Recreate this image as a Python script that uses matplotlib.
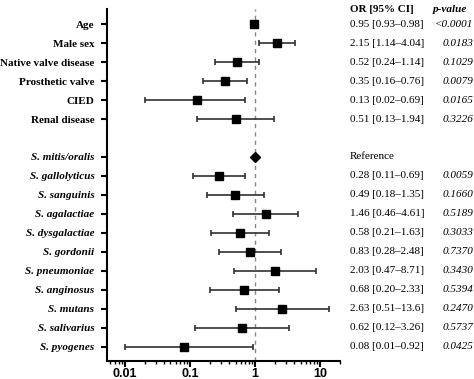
import matplotlib
matplotlib.use("Agg")
import matplotlib.pyplot as plt
from matplotlib.transforms import blended_transform_factory
import numpy as np

labels = ["Age", "Male sex", "Native valve disease", "Prosthetic valve", "CIED", "Renal disease",
          "S. mitis/oralis", "S. gallolyticus", "S. sanguinis", "S. agalactiae", "S. dysgalactiae",
          "S. gordonii", "S. pneumoniae", "S. anginosus", "S. mutans", "S. salivarius", "S. pyogenes"]
italic = [False]*6 + [True]*11
rows = [0, 1, 2, 3, 4, 5, 7, 8, 9, 10, 11, 12, 13, 14, 15, 16, 17]
orv = [0.95, 2.15, 0.52, 0.35, 0.13, 0.51, 1.0, 0.28, 0.49, 1.46, 0.58, 0.83, 2.03, 0.68, 2.63, 0.62, 0.08]
lo = [0.93, 1.14, 0.24, 0.16, 0.02, 0.13, np.nan, 0.11, 0.18, 0.46, 0.21, 0.28, 0.47, 0.20, 0.51, 0.12, 0.01]
hi = [0.98, 4.04, 1.14, 0.76, 0.69, 1.94, np.nan, 0.69, 1.35, 4.61, 1.63, 2.48, 8.71, 2.33, 13.6, 3.26, 0.92]
or_text = ["0.95 [0.93\u20130.98]", "2.15 [1.14\u20134.04]", "0.52 [0.24\u20131.14]", "0.35 [0.16\u20130.76]",
           "0.13 [0.02\u20130.69]", "0.51 [0.13\u20131.94]", "Reference", "0.28 [0.11\u20130.69]",
           "0.49 [0.18\u20131.35]", "1.46 [0.46\u20134.61]", "0.58 [0.21\u20131.63]", "0.83 [0.28\u20132.48]",
           "2.03 [0.47\u20138.71]", "0.68 [0.20\u20132.33]", "2.63 [0.51\u201313.6]", "0.62 [0.12\u20133.26]",
           "0.08 [0.01\u20130.92]"]
p_text = ["<0.0001", "0.0183", "0.1029", "0.0079", "0.0165", "0.3226", "", "0.0059", "0.1660",
          "0.5189", "0.3033", "0.7370", "0.3430", "0.5394", "0.2470", "0.5737", "0.0425"]
xticks = [0.01, 0.1, 1, 10]
xticklabels = ["0.01", "0.1", "1", "10"]

fig = plt.figure(figsize=(4.74, 3.79), dpi=100)
ax = fig.add_axes([0.2257, 0.048, 0.717 - 0.2257, 0.928])
ax.set_xscale("log")
ax.set_xlim(0.0053, 20)
ax.set_ylim(17.75, -0.8)

ax.axvline(1, color="#888888", lw=1.0, ls=(0, (3, 3)), zorder=1)

col = "#303030"
for r, o, l, h in zip(rows, orv, lo, hi):
    if np.isnan(l):
        ax.plot([o], [r], marker="D", ms=5, color="black", zorder=3)
    else:
        ax.errorbar([o], [r], xerr=[[o - l], [h - o]], fmt="s", ms=5.2, mfc="black", mec="black",
                    ecolor=col, elinewidth=1.2, capsize=2.5, capthick=1.2, zorder=3)

for s in ["top", "right"]:
    ax.spines[s].set_visible(False)
ax.spines["left"].set_linewidth(1.5)
ax.spines["bottom"].set_linewidth(1.5)

ax.set_yticks(rows)
ax.set_yticklabels(labels)
for t, it in zip(ax.get_yticklabels(), italic):
    t.set_fontfamily("Liberation Serif")
    t.set_fontweight("bold")
    t.set_fontsize(8)
    if it:
        t.set_fontstyle("italic")
ax.tick_params(axis="y", length=4, width=1.5, pad=5)

ax.set_xticks(xticks)
ax.set_xticklabels(xticklabels)
for t in ax.get_xticklabels():
    t.set_fontfamily("Liberation Sans")
    t.set_fontweight("bold")
    t.set_fontsize(9)
ax.tick_params(axis="x", which="major", length=4, width=1.5, pad=1)
ax.tick_params(axis="x", which="minor", length=2.5, width=1.0)

tr = blended_transform_factory(fig.transFigure, ax.transData)
ax.text(350 / 474, -0.8, "OR [95% CI]", transform=tr, fontfamily="Liberation Serif",
        fontweight="bold", fontsize=8, va="center", ha="left", clip_on=False)
ax.text(433 / 474, -0.8, "p-value", transform=tr, fontfamily="Liberation Serif",
        fontweight="bold", fontstyle="italic", fontsize=8, va="center", ha="left", clip_on=False)
for r, ot, pt in zip(rows, or_text, p_text):
    ax.text(350 / 474, r, ot, transform=tr, fontfamily="Liberation Serif", fontsize=8,
            va="center", ha="left", clip_on=False)
    if pt:
        ax.text(473 / 474, r, pt, transform=tr, fontfamily="Liberation Serif", fontstyle="italic",
                fontsize=8, va="center", ha="right", clip_on=False)

fig.savefig("out.png", dpi=100)
